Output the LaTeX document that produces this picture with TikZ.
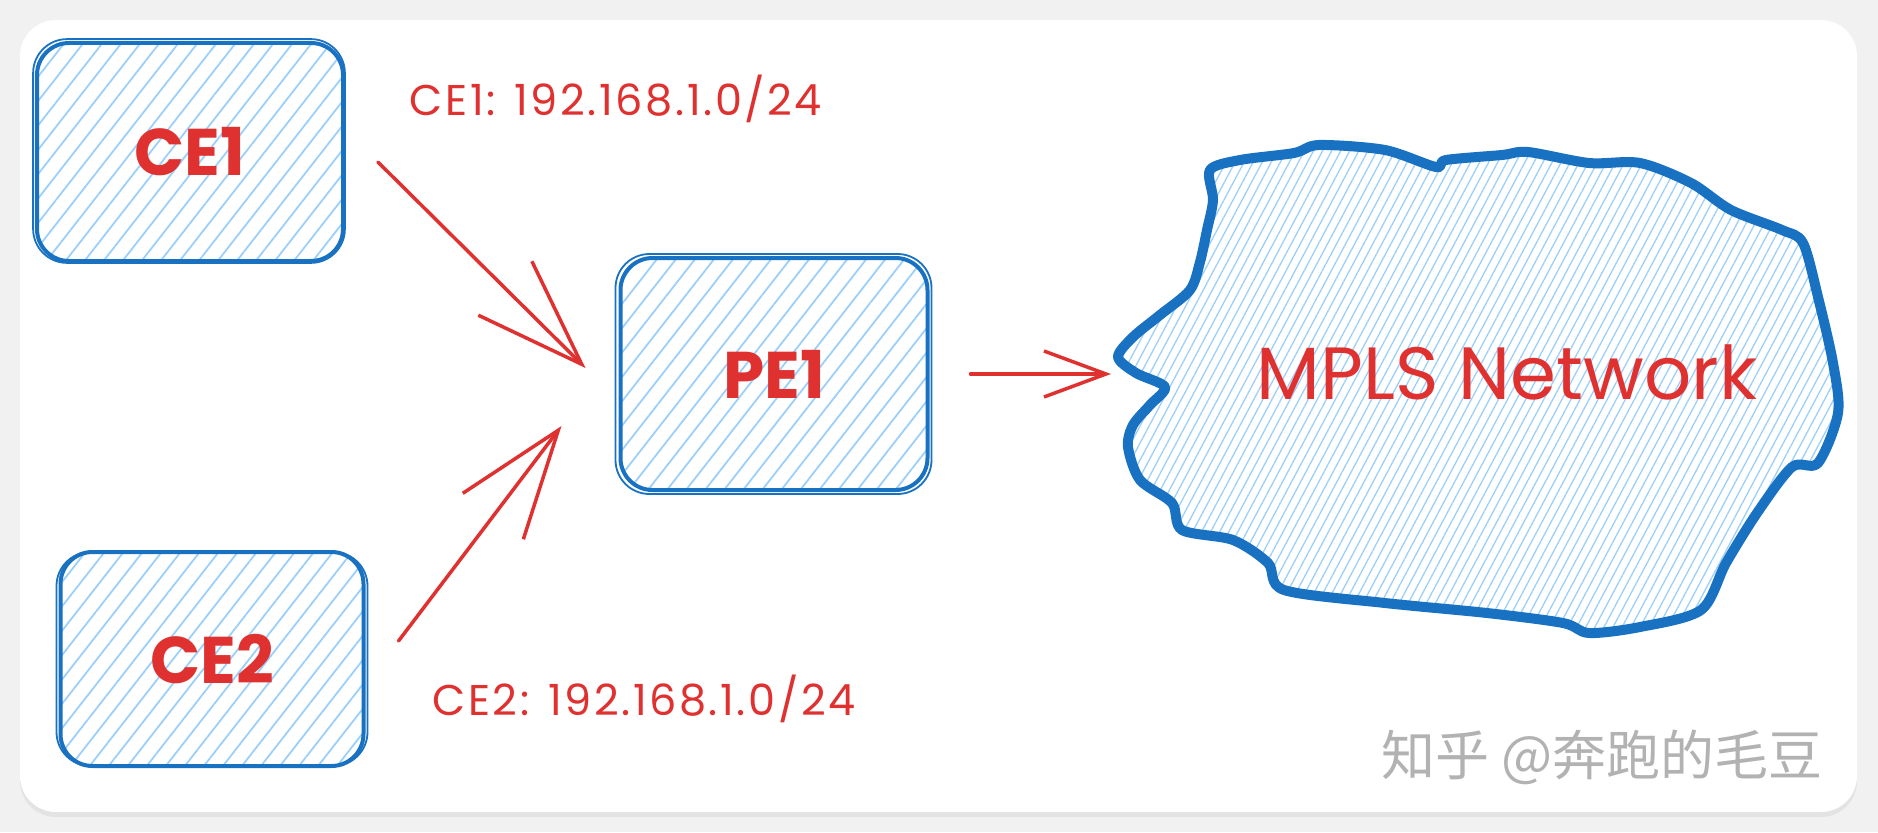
\documentclass[tikz,border=0pt]{standalone}
\usepackage{fontspec}
\setmainfont{Poppins}
\newfontfamily\labfont[LetterSpace=6]{Poppins}
\newfontfamily\cjk{Noto Sans CJK SC}
\usetikzlibrary{arrows.meta,patterns.meta,shadows}
\definecolor{edgeblue}{HTML}{1971C2}
\definecolor{hatchblue}{HTML}{9CD0FA}
\definecolor{inkred}{HTML}{E03131}
\definecolor{cardgray}{HTML}{F1F1F1}

\begin{document}
\begin{tikzpicture}[x=1pt,y=-1pt,
        box/.style={draw=edgeblue,line width=4pt,rounded corners=32pt,pattern={Lines[angle=52,distance=15pt,line width=1.8pt]},pattern color=hatchblue,text=inkred,font=\fontsize{66}{70}\selectfont\bfseries},
        boxedge/.style={draw=edgeblue,line width=1.8pt,rounded corners=34pt},
        lab/.style={text=inkred,font=\labfont\fontsize{43}{46}\selectfont},
        arr/.style={draw=inkred,line width=3.5pt,line cap=round,-{Straight Barb[length=108pt,width=76pt]}}]
        \useasboundingbox(0,0)rectangle(1878,832);
        \fill[cardgray](0,0)rectangle(1878,832);
        \fill[white,rounded corners=36pt,drop shadow={opacity=0.12,shadow xshift=0pt,shadow yshift=-5pt}](20,20)rectangle(1857,812);

        % boxes
        \node[box,minimum width=306pt,minimum height=218pt](ce1)at(190,152){CE1};
        \node[box,minimum width=303pt,minimum height=214pt](ce2)at(212,659){CE2};
        \node[box,minimum width=307pt,minimum height=232pt](pe1)at(774,374){PE1};
        \draw[boxedge]([xshift=-3pt,yshift=-1pt]ce1.south west)rectangle([xshift=1pt,yshift=3pt]ce1.north east);
        \draw[boxedge]([xshift=-2pt,yshift=2pt]ce2.south west)rectangle([xshift=2pt,yshift=-2pt]ce2.north east);
        \draw[boxedge]([xshift=-3pt,yshift=-2pt]pe1.south west)rectangle([xshift=2pt,yshift=2pt]pe1.north east);

        % cloud
        \draw[draw=edgeblue,line width=10pt,line join=round,pattern={Lines[angle=62,distance=8pt,line width=1.3pt]},pattern color=hatchblue]plot[smooth cycle,tension=0.5]coordinates{
            (1210,170)(1240,160)(1294,153)(1319,145)(1385,150)(1436,167)(1446,160)(1502,155)
            (1528,152)(1589,163)(1640,163)(1691,183)(1731,210)(1782,230)(1803,243)(1818,297)
            (1833,363)(1838,413)(1818,463)(1792,467)(1757,513)(1726,563)(1701,610)(1640,627)
            (1589,633)(1563,623)(1487,613)(1385,603)(1284,590)(1268,563)(1233,540)(1182,530)
            (1172,503)(1140,480)(1128,447)(1133,425)(1150,405)(1165,387)(1136,373)(1118,357)
            (1133,337)(1160,315)(1190,290)(1200,262)(1207,230)(1213,200)};
        \node[text=inkred,font=\fontsize{74}{76}\selectfont](net)at(1507,372){MPLS Network};
        \coordinate(netin)at(1111,374);

        \node[lab](lab1)at(616,99){CE1: 192.168.1.0/24};
        \node[lab](lab2)at(644,699){CE2: 192.168.1.0/24};

        % arrows
        \draw[arr]([xshift=34pt,yshift=-10pt]ce1.east)--([xshift=-33pt,yshift=6pt]pe1.west);
        \draw[arr]([xshift=33pt,yshift=18pt]ce2.east)--([xshift=-57pt,yshift=66pt]pe1.south west);
        \draw[arr,-{Straight Barb[length=62pt,width=46pt]}]([xshift=41pt]pe1.east)--(netin);

        \node[text=black!30,font=\cjk\fontsize{54}{56}\selectfont](wm)at(1602,757){知乎 @奔跑的毛豆};
    \end{tikzpicture}
\end{document}
